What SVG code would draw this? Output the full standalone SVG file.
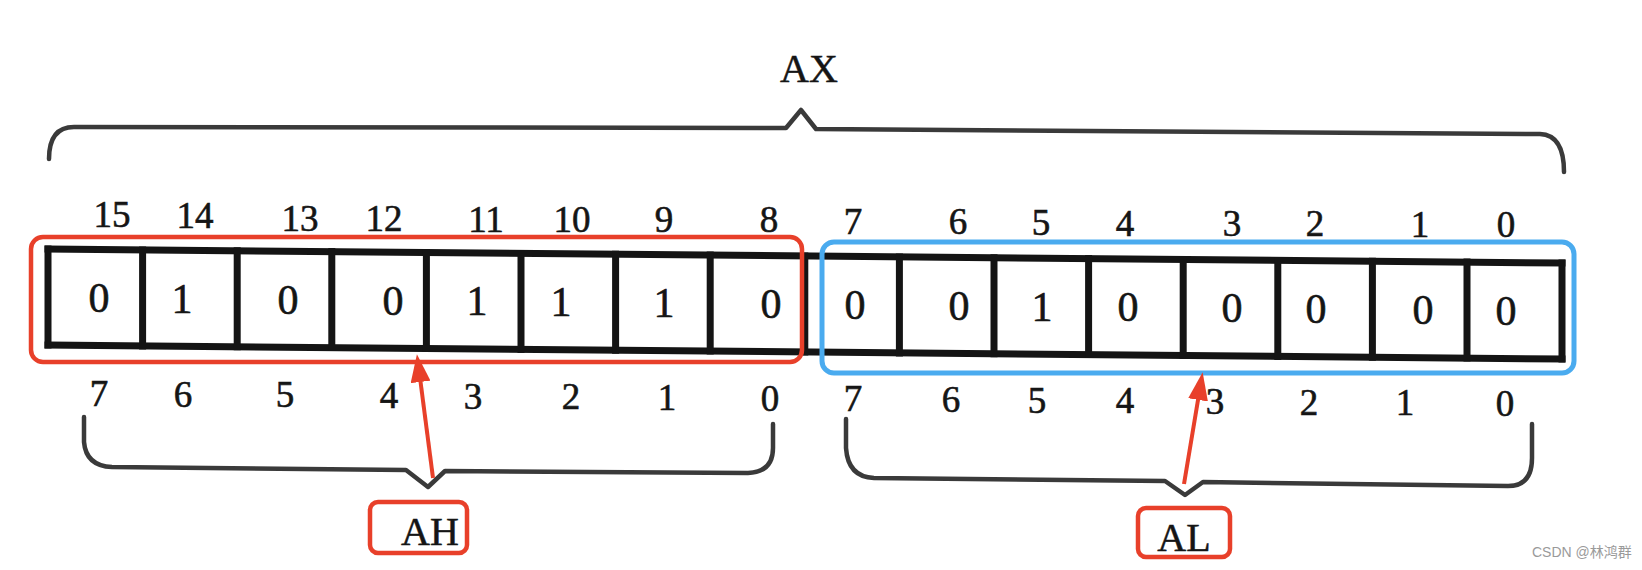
<svg xmlns="http://www.w3.org/2000/svg" width="1642" height="570" viewBox="0 0 1642 570">
<style>
  .num{font-family:"Liberation Serif","Times New Roman",serif;font-size:37px;fill:#151515;stroke:#151515;stroke-width:0.6;text-anchor:middle}
  .bit{font-family:"Liberation Serif","Times New Roman",serif;font-size:42px;fill:#151515;stroke:#151515;stroke-width:0.6;text-anchor:middle}
  .lbl{font-family:"Liberation Serif","Times New Roman",serif;font-size:40px;fill:#151515;stroke:#151515;stroke-width:0.5;text-anchor:middle}
  .cell{stroke:#141414;stroke-width:7;fill:none;stroke-linecap:square}
  .brace{stroke:#3a3a3a;stroke-width:4.5;fill:none;stroke-linejoin:round;stroke-linecap:round}
  .red{stroke:#E8402A;fill:none;stroke-width:4.5}
  .blue{stroke:#4AABEF;fill:none;stroke-width:5}
  .arrow{stroke:#E8402A;stroke-width:4;fill:none}
  .wm{font-family:"Liberation Sans","Noto Sans CJK SC",sans-serif;font-size:14px;fill:#9a9a9a}
</style>
<defs>
  <marker id="ah" markerUnits="userSpaceOnUse" viewBox="0 0 28 20" markerWidth="28" markerHeight="20" refX="12" refY="10" orient="auto">
    <path d="M0,0 L28,10 L0,20 z" fill="#E8402A"/>
  </marker>
</defs>
<rect width="1642" height="570" fill="#ffffff"/>

<g id="ax-label">
  <text class="lbl" x="809" y="82">AX</text>
  <path class="brace" d="M49 159 Q49 127 74 127 L786 128 L801 110 L816 129 L1540 134 Q1564 135 1564 172"/>
</g>

<g id="register">
  <path class="cell" d="M48 249 L1562 263" stroke-width="6"/>
  <path class="cell" d="M48 345 L1562 359" stroke-width="9"/>
  <path class="cell" d="M48 249 L48 345 M142.6 249.9 L142.6 345.9 M237.2 250.7 L237.2 346.7 M331.8 251.6 L331.8 347.6 M426.4 252.5 L426.4 348.5 M521 253.4 L521 349.4 M615.6 254.3 L615.6 350.3 M710.2 255.1 L710.2 351.1 M804.8 256 L804.8 352 M899.4 256.9 L899.4 352.9 M994 257.8 L994 353.8 M1088.6 258.6 L1088.6 354.6 M1183.2 259.5 L1183.2 355.5 M1277.8 260.4 L1277.8 356.4 M1372.4 261.3 L1372.4 357.3 M1467 262.1 L1467 358.1 M1562 263 L1562 359"/>
</g>

<g id="top-numbers">
  <text class="num" x="112" y="227">15</text>
  <text class="num" x="195" y="228">14</text>
  <text class="num" x="300" y="231">13</text>
  <text class="num" x="384" y="231">12</text>
  <text class="num" x="486" y="232">11</text>
  <text class="num" x="572" y="232">10</text>
  <text class="num" x="664" y="232">9</text>
  <text class="num" x="769" y="232">8</text>
  <text class="num" x="853" y="234">7</text>
  <text class="num" x="958" y="234">6</text>
  <text class="num" x="1041" y="235">5</text>
  <text class="num" x="1125" y="236">4</text>
  <text class="num" x="1232" y="236">3</text>
  <text class="num" x="1315" y="236">2</text>
  <text class="num" x="1420" y="237">1</text>
  <text class="num" x="1506" y="237">0</text>
</g>

<g id="bits">
  <g id="bit15"><text class="bit" x="99" y="312">0</text></g>
  <g id="bit14"><text class="bit" x="182" y="313">1</text></g>
  <g id="bit13"><text class="bit" x="288" y="314">0</text></g>
  <g id="bit12"><text class="bit" x="393" y="315">0</text></g>
  <g id="bit11"><text class="bit" x="477" y="315">1</text></g>
  <g id="bit10"><text class="bit" x="561" y="316">1</text></g>
  <g id="bit9"><text class="bit" x="664" y="317">1</text></g>
  <g id="bit8"><text class="bit" x="771" y="318">0</text></g>
  <g id="bit7"><text class="bit" x="855" y="319">0</text></g>
  <g id="bit6"><text class="bit" x="959" y="320">0</text></g>
  <g id="bit5"><text class="bit" x="1042" y="321">1</text></g>
  <g id="bit4"><text class="bit" x="1128" y="321">0</text></g>
  <g id="bit3"><text class="bit" x="1232" y="322">0</text></g>
  <g id="bit2"><text class="bit" x="1316" y="323">0</text></g>
  <g id="bit1"><text class="bit" x="1423" y="324">0</text></g>
  <g id="bit0"><text class="bit" x="1506" y="325">0</text></g>
</g>

<g id="bottom-numbers">
  <text class="num" x="99" y="406">7</text>
  <text class="num" x="183" y="407">6</text>
  <text class="num" x="285" y="407">5</text>
  <text class="num" x="389" y="408">4</text>
  <text class="num" x="473" y="409">3</text>
  <text class="num" x="571" y="409">2</text>
  <text class="num" x="667" y="410">1</text>
  <text class="num" x="770" y="411">0</text>
  <text class="num" x="853" y="411">7</text>
  <text class="num" x="951" y="412">6</text>
  <text class="num" x="1037" y="413">5</text>
  <text class="num" x="1125" y="413">4</text>
  <text class="num" x="1215" y="414">3</text>
  <text class="num" x="1309" y="415">2</text>
  <text class="num" x="1405" y="415">1</text>
  <text class="num" x="1505" y="416">0</text>
</g>

<g id="high-byte-box">
  <rect class="red" x="31" y="237" width="771" height="125" rx="12"/>
</g>
<g id="low-byte-box">
  <rect class="blue" x="822" y="242" width="752" height="131" rx="12"/>
</g>

<g id="ah-brace">
  <path class="brace" d="M84 417 L84 442 Q86 466 112 467 L406 470 L428 487 L445 471 L748 473 Q773 472 773 448 L773 424"/>
</g>
<g id="al-brace">
  <path class="brace" d="M846 419 L846 448 Q848 477 874 478 L1165 481 L1185 495 L1203 482 L1508 486 Q1532 486 1532 458 L1532 424"/>
</g>

<g id="AH">
  <rect class="red" x="370" y="502" width="97" height="51" rx="8"/>
  <text class="lbl" x="430" y="545" font-size="38">AH</text>
</g>
<g id="AL">
  <rect class="red" x="1138" y="508" width="92" height="49" rx="8"/>
  <text class="lbl" x="1184" y="551" font-size="38">AL</text>
</g>

<g id="connectors">
  <path class="arrow" d="M433 478 L419 370" marker-end="url(#ah)"/>
  <path class="arrow" d="M1184 484 L1200 388" marker-end="url(#ah)"/>
</g>

<text class="wm" x="1532" y="557">CSDN @林鸿群</text>
</svg>
